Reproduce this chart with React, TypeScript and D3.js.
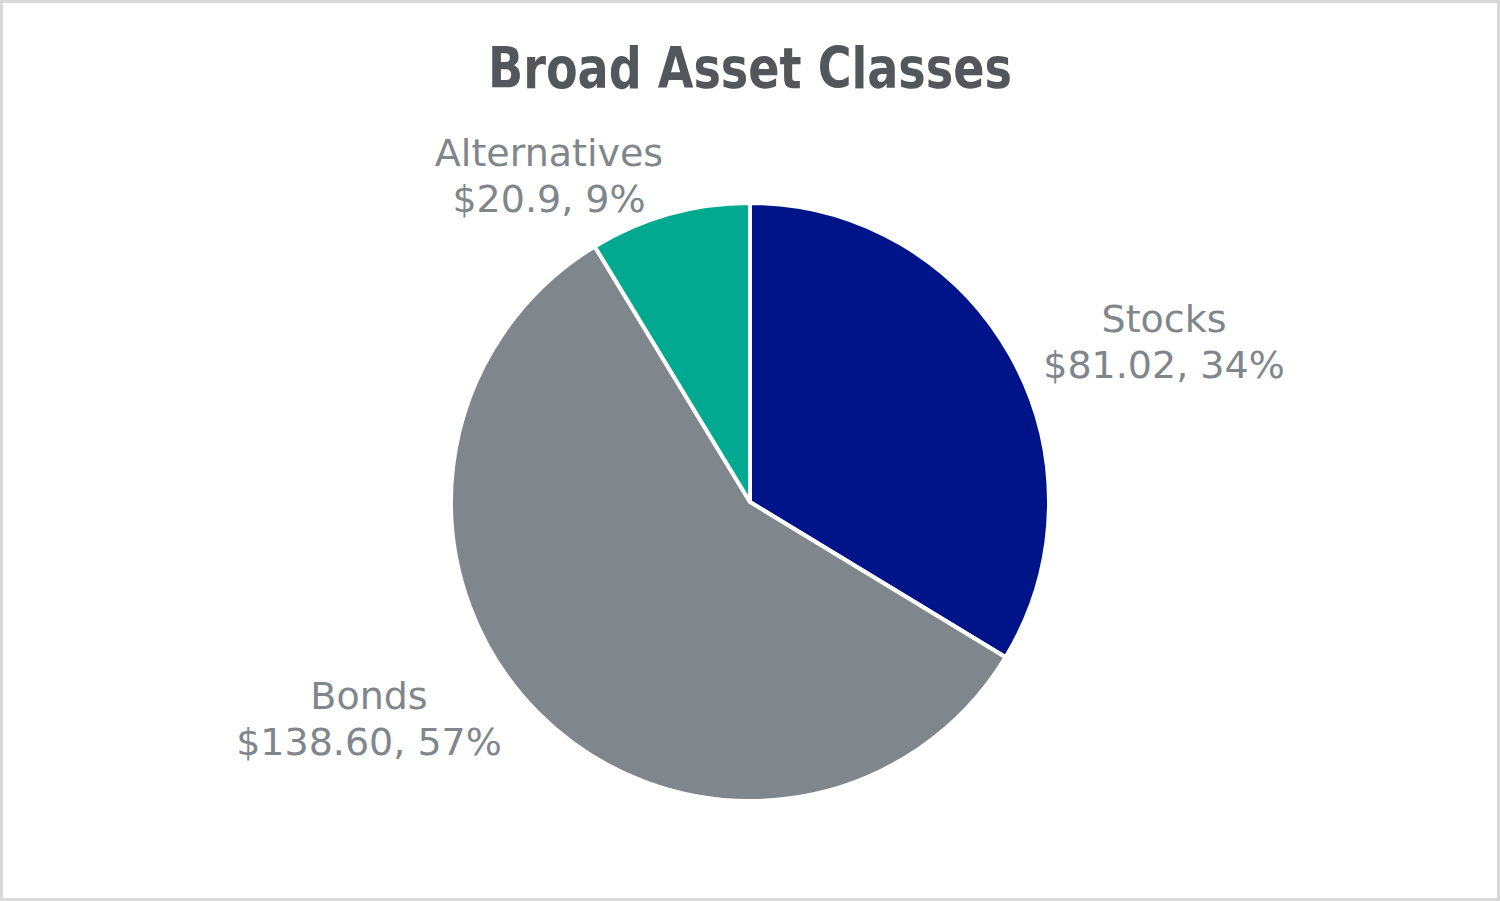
import React from 'react';
import * as d3 from 'd3';

const categories = ['Stocks', 'Bonds', 'Alternatives'];
const values = [81.02, 138.6, 20.9];
const valueLabels = ['$81.02', '$138.60', '$20.9'];
const percentLabels = ['34%', '57%', '9%'];
const colors = ['#001489', '#7f878c', '#00a98f'];
// label anchor positions (relative to centre), as the source chart placed them
const labelOffsets: [number, number][] = [
  [414, -170],
  [-381, 207],
  [-201, -336],
];

const W = 1500;
const H = 901;
const cx = 750;
const cy = 502;
const radius = 299;

export default function App() {
  const pie = d3.pie<number>().sort(null).value((d) => d);
  const arc = d3.arc<d3.PieArcDatum<number>>().innerRadius(0).outerRadius(radius);
  const arcs = pie(values);

  return (
    <svg
      width={W}
      height={H}
      style={{ display: 'block', position: 'absolute', left: 0, top: 0, background: '#fff' }}
    >
      <rect x={1.5} y={1.5} width={W - 3} height={H - 3} fill="#fff" stroke="#d9d9d9" strokeWidth={3} />
      <text
        x={cx}
        y={88}
        textAnchor="middle"
        fontFamily="'DejaVu Sans Condensed', 'DejaVu Sans', sans-serif"
        fontWeight="bold"
        fontSize={57}
        fill="#53565a"
        textLength={524}
        lengthAdjust="spacingAndGlyphs"
      >
        Broad Asset Classes
      </text>
      <g transform={`translate(${cx},${cy})`}>
        {arcs.map((a, i) => (
          <path key={categories[i]} d={arc(a) ?? ''} fill={colors[i]} stroke="#fff" strokeWidth={4} strokeLinejoin="round" />
        ))}
        {arcs.map((a, i) => (
          <text
            key={'l' + categories[i]}
            x={labelOffsets[i][0]}
            y={labelOffsets[i][1]}
            textAnchor="middle"
            fontFamily="'DejaVu Sans', Verdana, sans-serif"
            fontSize={38}
            fill="#7f868c"
          >
            <tspan x={labelOffsets[i][0]} dy={0}>{categories[i]}</tspan>
            <tspan x={labelOffsets[i][0]} dy={46}>{`${valueLabels[i]}, ${percentLabels[i]}`}</tspan>
          </text>
        ))}
      </g>
    </svg>
  );
}
